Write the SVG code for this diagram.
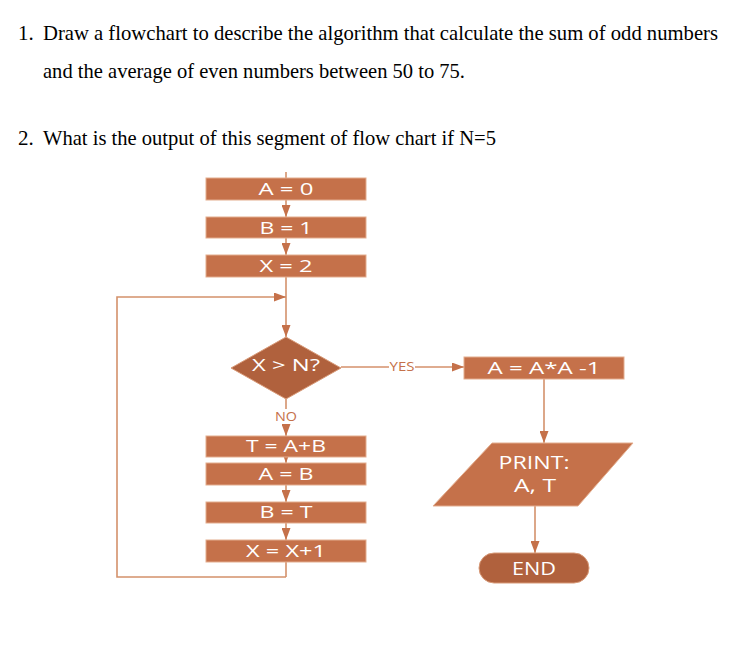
<svg xmlns="http://www.w3.org/2000/svg" width="737" height="649" viewBox="0 0 737 649">
<style>
.q{font-family:"Liberation Serif","Times New Roman",serif;font-size:21px;fill:#000}
.box{fill:#C5714A;stroke:#E3AD8E;stroke-width:1}
.dark{fill:#B0613D;stroke:#D89A78;stroke-width:1}
.lbl{font-family:"Open Sans","Liberation Sans",sans-serif;font-size:17px;fill:#fff;text-anchor:middle}
.big{font-size:18px}
.small{font-family:"Open Sans","Liberation Sans",sans-serif;font-size:12px;fill:#C5714A;text-anchor:middle}
.ln{stroke:#D4916B;stroke-width:1.6;fill:none}
</style>
<defs>
<marker id="ah" viewBox="0 0 12 9" refX="12" refY="4.5" markerWidth="12" markerHeight="9" markerUnits="userSpaceOnUse" orient="auto">
<path d="M0,0 L12,4.5 L0,9 Z" fill="#C5714A"/>
</marker>
</defs>
<rect width="737" height="649" fill="#fff"/>
<g id="question">
<text class="q" x="18" y="40">1.</text>
<text class="q" x="43" y="40" textLength="675" lengthAdjust="spacingAndGlyphs">Draw a flowchart to describe the algorithm that calculate the sum of odd numbers</text>
<text class="q" x="43" y="78" textLength="422" lengthAdjust="spacingAndGlyphs">and the average of even numbers between 50 to 75.</text>
<text class="q" x="18" y="145">2.</text>
<text class="q" x="43" y="145" textLength="453" lengthAdjust="spacingAndGlyphs">What is the output of this segment of flow chart if N=5</text>
</g>
<g id="connectors">
<line class="ln" x1="286" y1="172" x2="286" y2="178"/>
<line class="ln" x1="286" y1="200" x2="286" y2="217" marker-end="url(#ah)"/>
<line class="ln" x1="286" y1="238" x2="286" y2="255" marker-end="url(#ah)"/>
<line class="ln" x1="286" y1="277" x2="286" y2="337" marker-end="url(#ah)"/>
<polyline class="ln" points="286,577 117,577 117,297 286,297" marker-end="url(#ah)"/>
<line class="ln" x1="286" y1="399" x2="286" y2="409"/>
<text class="small" x="286" y="421" textLength="22" lengthAdjust="spacingAndGlyphs">NO</text>
<line class="ln" x1="286" y1="424" x2="286" y2="436" marker-end="url(#ah)"/>
<line class="ln" x1="286" y1="456" x2="286" y2="463" marker-end="url(#ah)"/>
<line class="ln" x1="286" y1="485" x2="286" y2="502" marker-end="url(#ah)"/>
<line class="ln" x1="286" y1="523" x2="286" y2="540" marker-end="url(#ah)"/>
<line class="ln" x1="286" y1="562" x2="286" y2="577"/>
<line class="ln" x1="341" y1="367" x2="389" y2="367"/>
<text class="small" x="402" y="371" textLength="25" lengthAdjust="spacingAndGlyphs">YES</text>
<line class="ln" x1="415" y1="367" x2="464" y2="367" marker-end="url(#ah)"/>
<line class="ln" x1="544" y1="379" x2="544" y2="443" marker-end="url(#ah)"/>
<line class="ln" x1="535" y1="506" x2="535" y2="553" marker-end="url(#ah)"/>
</g>
<g id="n_a0"><rect class="box" x="206" y="178" width="160" height="22"/><text class="lbl" x="286" y="195" textLength="55" lengthAdjust="spacingAndGlyphs">A = 0</text></g>
<g id="n_b1"><rect class="box" x="206" y="217" width="160" height="21"/><text class="lbl" x="286" y="234" textLength="53" lengthAdjust="spacingAndGlyphs">B = 1</text></g>
<g id="n_x2"><rect class="box" x="206" y="255" width="160" height="22"/><text class="lbl" x="286" y="272" textLength="53" lengthAdjust="spacingAndGlyphs">X = 2</text></g>
<g id="n_cond"><polygon class="dark" points="286,337 341,368 286,399 231,368"/><text class="lbl" x="286" y="371" textLength="68" lengthAdjust="spacingAndGlyphs">X &gt; N?</text></g>
<g id="n_aaa"><rect class="box" x="464" y="357" width="160" height="22"/><text class="lbl" x="544" y="374" textLength="113" lengthAdjust="spacingAndGlyphs">A = A*A -1</text></g>
<g id="n_t"><rect class="box" x="206" y="436" width="160" height="21"/><text class="lbl" x="286" y="452" textLength="80" lengthAdjust="spacingAndGlyphs">T = A+B</text></g>
<g id="n_ab"><rect class="box" x="206" y="463" width="160" height="22"/><text class="lbl" x="286" y="480" textLength="55" lengthAdjust="spacingAndGlyphs">A = B</text></g>
<g id="n_bt"><rect class="box" x="206" y="502" width="160" height="21"/><text class="lbl" x="286" y="518" textLength="53" lengthAdjust="spacingAndGlyphs">B = T</text></g>
<g id="n_xx"><rect class="box" x="206" y="540" width="160" height="22"/><text class="lbl" x="286" y="557" textLength="80" lengthAdjust="spacingAndGlyphs">X = X+1</text></g>
<g id="n_print"><polygon class="box" points="492,443 633,443 578,506 433,506"/><text class="lbl big" x="534" y="469" textLength="71" lengthAdjust="spacingAndGlyphs">PRINT:</text><text class="lbl big" x="535" y="492" textLength="42" lengthAdjust="spacingAndGlyphs">A, T</text></g>
<g id="n_end"><rect class="dark" x="479" y="553" width="110" height="30" rx="15"/><text class="lbl big" x="534" y="575" textLength="44" lengthAdjust="spacingAndGlyphs">END</text></g>
</svg>
